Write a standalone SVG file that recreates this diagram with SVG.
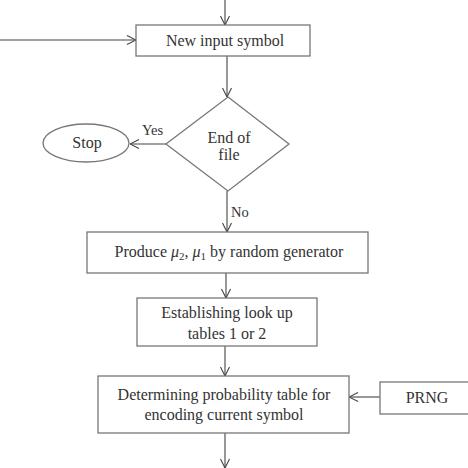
<svg xmlns="http://www.w3.org/2000/svg" width="468" height="468" viewBox="0 0 468 468">
<style>
.box{fill:#fff;stroke:#777;stroke-width:1.3}
.ln{fill:none;stroke:#444;stroke-width:1.1}
.t{font-family:"Liberation Serif",serif;font-size:16px;fill:#333;text-anchor:middle}
.s{font-family:"Liberation Serif",serif;font-size:14.5px;fill:#333}
</style>
<defs>
<marker id="a" viewBox="0 0 10 10" refX="10" refY="5" markerWidth="10" markerHeight="10" markerUnits="userSpaceOnUse" orient="auto">
<path d="M1,0.5 L10,5 L1,9.5" fill="none" stroke="#444" stroke-width="1.1"/>
</marker>
</defs>
<rect width="468" height="468" fill="#fff"/>
<g id="connectors">
<line class="ln" x1="225" y1="0" x2="225" y2="25" marker-end="url(#a)"/>
<line class="ln" x1="0" y1="40" x2="136" y2="40" marker-end="url(#a)"/>
<line class="ln" x1="227" y1="56" x2="227" y2="97" marker-end="url(#a)"/>
<line class="ln" x1="166" y1="144" x2="130" y2="144" marker-end="url(#a)"/>
<line class="ln" x1="227" y1="191" x2="227" y2="232" marker-end="url(#a)"/>
<line class="ln" x1="226" y1="273" x2="226" y2="298" marker-end="url(#a)"/>
<line class="ln" x1="225" y1="346" x2="225" y2="376" marker-end="url(#a)"/>
<line class="ln" x1="380" y1="397" x2="349" y2="397" marker-end="url(#a)"/>
<line class="ln" x1="225" y1="433" x2="225" y2="468" marker-end="url(#a)"/>
<text class="s" x="142" y="135">Yes</text>
<text class="s" x="231" y="217">No</text>
</g>
<g id="new-input">
<rect class="box" x="136" y="25" width="174" height="31"/>
<text class="t" x="225" y="46">New input symbol</text>
</g>
<g id="end-of-file">
<polygon class="box" points="228,97 289,144 228,191 166,144"/>
<text class="t" x="229" y="143">End of</text>
<text class="t" x="229" y="160">file</text>
</g>
<g id="stop">
<ellipse class="box" cx="86" cy="143" rx="43" ry="19"/>
<text class="t" x="87" y="148">Stop</text>
</g>
<g id="produce">
<rect class="box" x="87" y="232" width="281" height="41"/>
<text class="t" x="229" y="257">Produce <tspan font-style="italic">μ</tspan><tspan font-size="11" dy="3">2</tspan><tspan dy="-3">, </tspan><tspan font-style="italic">μ</tspan><tspan font-size="11" dy="3">1</tspan><tspan dy="-3"> by random generator</tspan></text>
</g>
<g id="establishing">
<rect class="box" x="137" y="298" width="180" height="48"/>
<text class="t" x="227" y="318">Establishing look up</text>
<text class="t" x="227" y="339">tables 1 or 2</text>
</g>
<g id="determining">
<rect class="box" x="98" y="376" width="251" height="57"/>
<text class="t" x="224" y="400">Determining probability table for</text>
<text class="t" x="224" y="420">encoding current symbol</text>
</g>
<g id="prng">
<rect class="box" x="380" y="382" width="100" height="32"/>
<text class="t" x="427" y="403">PRNG</text>
</g>
</svg>
